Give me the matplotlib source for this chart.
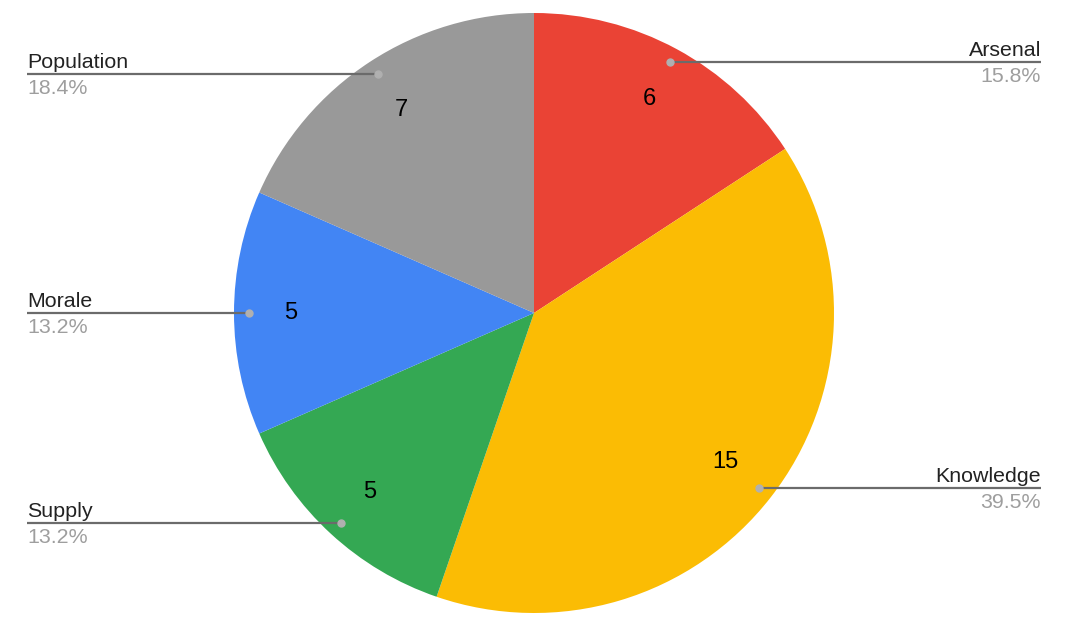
import numpy as np
import matplotlib.pyplot as plt

plt.rcParams['font.family'] = ['Liberation Sans', 'DejaVu Sans']

categories = ['Arsenal', 'Knowledge', 'Supply', 'Morale', 'Population']
values = [6, 15, 5, 5, 7]
colors = ['#EA4335', '#FBBC04', '#34A853', '#4285F4', '#999999']

W, H = 1069, 633
cx, cy, radius = 534, H - 313, 300
total = sum(values)

fig = plt.figure(figsize=(W / 100, H / 100), dpi=100)
ax = fig.add_axes([0, 0, 1, 1])

wedges, texts, autotexts = ax.pie(
    values, colors=colors, startangle=90, counterclock=False,
    center=(cx, cy), radius=radius, frame=True,
    autopct=lambda p: f"{round(p * total / 100)}", pctdistance=0.81,
    textprops={'fontsize': 17, 'color': '#000000'},
)
ax.set_xlim(0, W)
ax.set_ylim(0, H)
ax.axis('off')

# leader lines + outside labels, Google Sheets style
for wedge, name, val in zip(wedges, categories, values):
    mid = np.deg2rad((wedge.theta1 + wedge.theta2) / 2)
    dx, dy = cx + 0.95 * radius * np.cos(mid), cy + 0.95 * radius * np.sin(mid)
    right = dx > cx
    edge = 1041 if right else 27
    ha = 'right' if right else 'left'
    ax.plot([dx, edge], [dy, dy], color='#6b6b6b', lw=1.6, solid_capstyle='butt', zorder=3)
    ax.plot(dx, dy, 'o', color='#b0b0b0', ms=5, zorder=4)
    ax.text(edge, dy + 6, name, ha=ha, va='baseline', fontsize=15.4, color='#222222')
    ax.text(edge, dy - 20, f"{val / total * 100:.1f}%", ha=ha, va='baseline',
            fontsize=15.4, color='#9e9e9e')

fig.savefig('out.png', dpi=100)
